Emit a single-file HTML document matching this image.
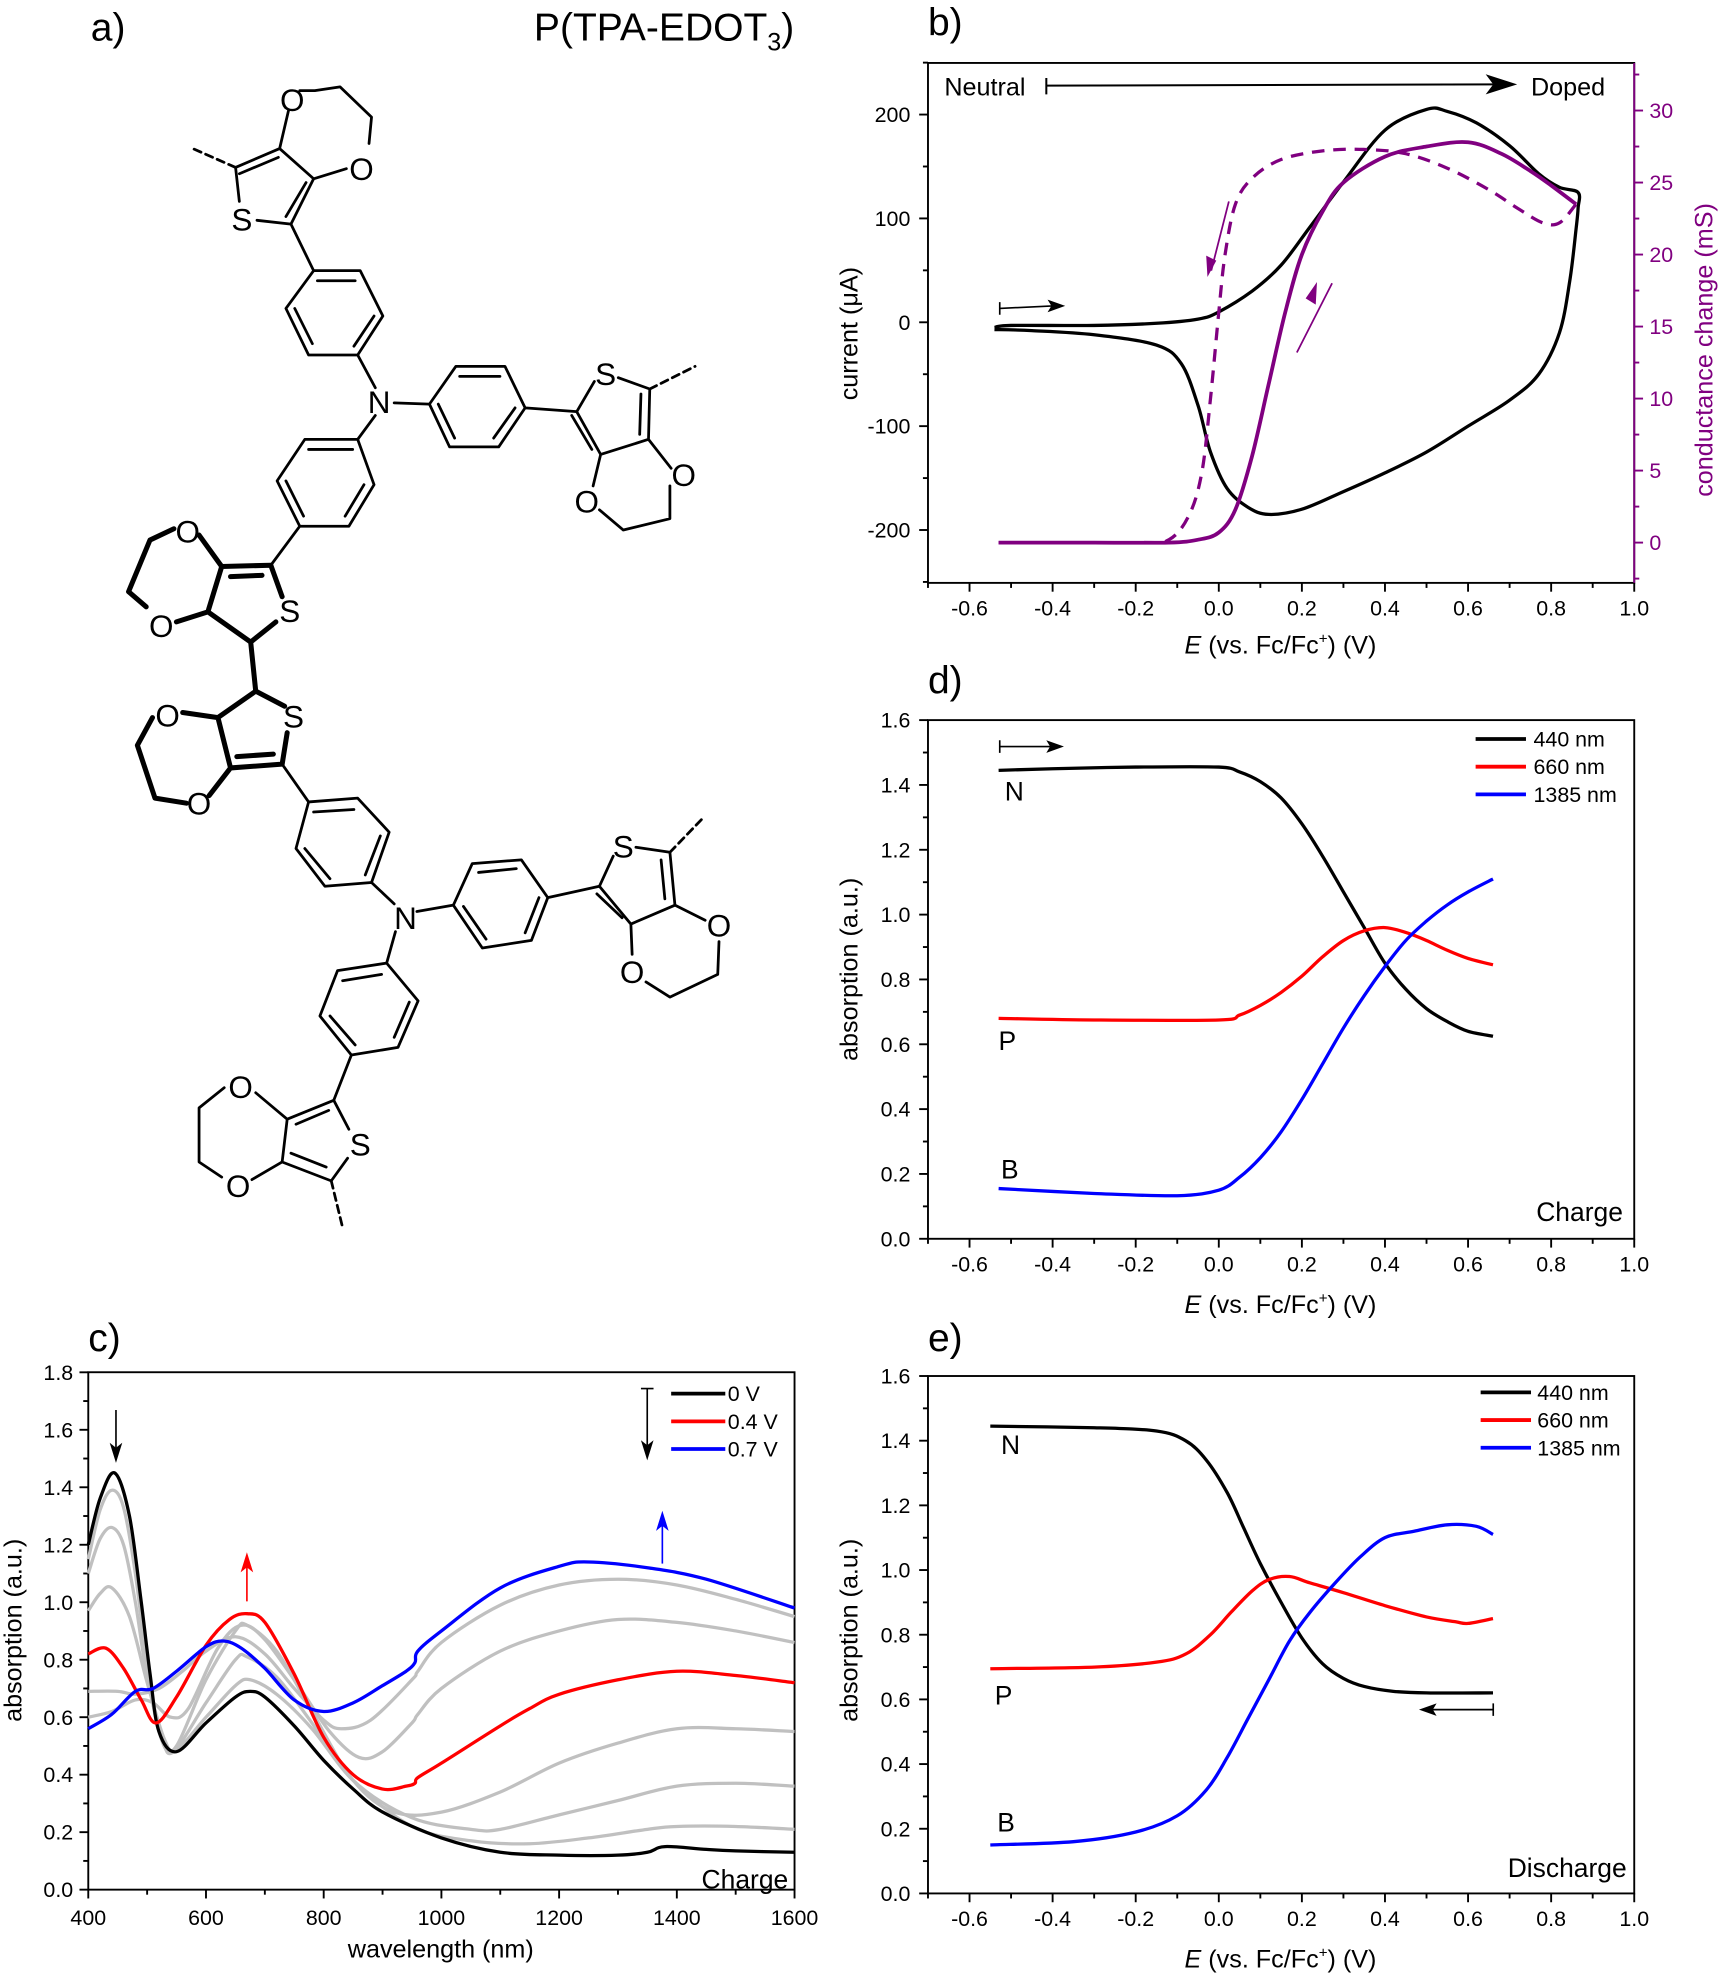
<!DOCTYPE html>
<html><head><meta charset="utf-8"><style>
html,body{margin:0;padding:0;background:#fff}
svg{display:block}
text{font-family:"Liberation Sans",Arial,sans-serif;fill:#000}
</style></head><body>
<svg id="s" width="1720" height="1974" viewBox="0 0 1366 1568" xmlns="http://www.w3.org/2000/svg">
<!-- panel a -->
<text x="72" y="32" font-size="31">a)</text>
<text x="424" y="32" font-size="31">P(TPA-EDOT<tspan font-size="20" dy="8">3</tspan><tspan dy="-8">)</tspan></text>
<g stroke="#000" stroke-width="2.2" fill="none" stroke-linecap="round" stroke-linejoin="round">
<path d="M187,133 L222,118 M190,138 L221,125 M222,118 L229,88 M249,142 L275,134 M238,72 L250,72 L270,69 L295,93 L293,114 M249,142 L222,118 M249,142 L231,178 M243,145 L227,172 M231,178 L204,175 M187,133 L190,160 M231,178 L249,215"/>
<path d="M187,133 L153,118" stroke-dasharray="6,4"/>
<path d="M249,215 L286,215 L304,251 L284,282 L245,282 L227,245 Z M252,223 L282,223 M297,251 L281,275 M234,245 L248,273"/>
<path d="M284,282 L298,308 M313,320 L341,321 M298,330 L284,349"/>
<path d="M341,321 L362,291 L401,291 L417,324 L396,355 L357,355 Z M365,299 L397,299 M409,324 L392,348 M348,321 L361,348 M417,324 L458,327"/>
<path d="M458,327 L472,303 M491,300 L516,309 M516,309 L515,349 M509,313 L508,345 M515,349 L477,361 M477,361 L458,327 M470,357 L454,330 M515,349 L533,372 M477,361 L471,386 M532,386 L532,412 L495,421 L476,405"/>
<path d="M516,309 L552,291" stroke-dasharray="6,4"/>
<path d="M284,349 L242,349 L220,382 L238,418 L277,418 L297,385 Z M245,357 L280,357 M227,382 L241,410 M274,410 L289,385 M238,418 L215,449"/>
</g>
<g stroke="#000" stroke-width="4" fill="none" stroke-linecap="round" stroke-linejoin="round">
<path d="M215,449 L176,450 L165,486 L199,510 L219,494 M215,449 L224,474 M183,458 L208,457 M176,450 L158,425 M165,486 L140,494 M138,420 L119,429 L102,470 L116,482 M199,510 L203,549"/>
<path d="M203,549 L226,561 M228,582 L224,607 L183,610 L173,570 L203,549 M188,601 L217,599 M173,570 L145,566 M183,610 L166,632 M121,570 L109,592 L123,634 L148,638"/>
</g>
<g stroke="#000" stroke-width="2.2" fill="none" stroke-linecap="round" stroke-linejoin="round">
<path d="M224,607 L245,637"/>
<path d="M245,637 L284,634 L309,661 L295,701 L258,704 L235,674 Z M249,645 L281,643 M302,664 L290,695 M242,674 L262,698 M295,701 L313,718 M331,724 L360,719 M314,740 L307,765"/>
<path d="M360,719 L375,686 L414,683 L435,713 L422,747 L383,753 Z M380,693 L410,690 M428,713 L417,741 M368,720 L386,746 M435,713 L476,704"/>
<path d="M476,704 L487,680 M505,673 L532,677 L536,719 L501,734 L476,704 M525,683 L528,714 M494,729 L474,710 M536,719 L560,731 M501,734 L502,758 M571,748 L570,774 L532,792 L513,780"/>
<path d="M532,677 L559,649" stroke-dasharray="6,4"/>
<path d="M307,765 L268,771 L254,807 L279,838 L316,832 L332,795 Z M272,779 L303,774 M262,807 L282,830 M313,824 L325,796 M279,838 L265,874"/>
<path d="M265,874 L277,897 M276,920 L263,938 L224,923 L228,889 L265,874 M231,916 L259,927 M235,893 L261,882 M228,889 L203,868 M224,923 L200,937 M178,864 L158,880 L158,923 L176,935"/>
<path d="M263,938 L272,975" stroke-dasharray="6,4"/>
</g>
<g font-size="25" text-anchor="middle">
<text x="232" y="88">O</text><text x="287" y="143">O</text><text x="192" y="183">S</text>
<text x="301" y="328">N</text><text x="481" y="306">S</text><text x="543" y="386">O</text><text x="466" y="407">O</text>
<text x="149" y="431">O</text><text x="128" y="506">O</text><text x="230" y="494">S</text>
<text x="233" y="578">S</text><text x="133" y="577">O</text><text x="158" y="647">O</text>
<text x="322" y="738">N</text><text x="495" y="681">S</text><text x="571" y="744">O</text><text x="502" y="781">O</text>
<text x="191" y="872">O</text><text x="189" y="951">O</text><text x="286" y="918">S</text>
</g>

<text x="737" y="28" font-size="31">b)</text>
<text x="737" y="551" font-size="31">d)</text>
<text x="70" y="1073" font-size="31">c)</text>
<text x="737" y="1073" font-size="31">e)</text>

<g id="axes" stroke="#000" stroke-width="1.5" fill="none"></g>
<g id="curves" fill="none"></g>
<g id="labels" font-size="17"></g>

<text x="750" y="76" font-size="20">Neutral</text>
<text x="1216" y="76" font-size="20">Doped</text>
<path d="M831,62 L831,75 M831,68 L1190,67" stroke="#000" stroke-width="1.6" fill="none"/>
<path d="M1205,67 L1180,59 L1186,67 L1180,75 Z" fill="#000"/>
<path d="M794,240 L794,250 M794,245 L836,243" stroke="#000" stroke-width="1.3" fill="none"/>
<path d="M846,243 L832,238 L835,243 L832,248 Z" fill="#000"/>
<text transform="translate(681,265) rotate(-90)" font-size="20" text-anchor="middle">current (μA)</text>
<text transform="translate(1360,278) rotate(-90)" font-size="20" text-anchor="middle" style="fill:#800080">conductance change (mS)</text>
<text x="1017" y="519" font-size="20" text-anchor="middle"><tspan font-style="italic">E</tspan> (vs. Fc/Fc<tspan font-size="12" dy="-8">+</tspan><tspan dy="8">) (V)</tspan></text>
<path d="M976,160 L962,215 M1058,225 L1030,280" stroke="#800080" stroke-width="1.4"/>
<path d="M959,220 L958,203 L966,207 Z M1046,224 L1045,242 L1037,237 Z" fill="#800080"/>

<text transform="translate(681,770) rotate(-90)" font-size="20" text-anchor="middle">absorption (a.u.)</text>
<text x="1017" y="1043" font-size="20" text-anchor="middle"><tspan font-style="italic">E</tspan> (vs. Fc/Fc<tspan font-size="12" dy="-8">+</tspan><tspan dy="8">) (V)</tspan></text>
<g font-size="17"><text x="1218" y="593">440 nm</text><text x="1218" y="615">660 nm</text><text x="1218" y="637">1385 nm</text></g>
<path d="M1172,587 H1212" stroke="#000" stroke-width="3"/><path d="M1172,609 H1212" stroke="#f00" stroke-width="3"/><path d="M1172,631 H1212" stroke="#00f" stroke-width="3"/>
<g font-size="21"><text x="798" y="636">N</text><text x="793" y="834">P</text><text x="795" y="936">B</text><text x="1289" y="970" text-anchor="end">Charge</text></g>
<path d="M794,588 L794,598 M794,593 L835,593" stroke="#000" stroke-width="1.3"/><path d="M845,593 L831,588 L834,593 L831,598 Z" fill="#000"/>

<text transform="translate(681,1295) rotate(-90)" font-size="20" text-anchor="middle">absorption (a.u.)</text>
<text x="1017" y="1563" font-size="20" text-anchor="middle"><tspan font-style="italic">E</tspan> (vs. Fc/Fc<tspan font-size="12" dy="-8">+</tspan><tspan dy="8">) (V)</tspan></text>
<g font-size="17"><text x="1221" y="1112">440 nm</text><text x="1221" y="1134">660 nm</text><text x="1221" y="1156">1385 nm</text></g>
<path d="M1176,1106 H1216" stroke="#000" stroke-width="3"/><path d="M1176,1128 H1216" stroke="#f00" stroke-width="3"/><path d="M1176,1150 H1216" stroke="#00f" stroke-width="3"/>
<g font-size="21"><text x="795" y="1155">N</text><text x="790" y="1354">P</text><text x="792" y="1455">B</text><text x="1292" y="1491" text-anchor="end">Discharge</text></g>
<path d="M1186,1353 L1186,1363 M1186,1358 L1137,1358" stroke="#000" stroke-width="1.3"/><path d="M1127,1358 L1141,1353 L1138,1358 L1141,1363 Z" fill="#000"/>

<text transform="translate(17,1295) rotate(-90)" font-size="20" text-anchor="middle">absorption (a.u.)</text>
<text x="350" y="1555" font-size="20" text-anchor="middle">wavelength (nm)</text>
<g font-size="17"><text x="578" y="1113">0 V</text><text x="578" y="1135">0.4 V</text><text x="578" y="1157">0.7 V</text></g>
<path d="M533,1107 H576" stroke="#000" stroke-width="3"/><path d="M533,1129 H576" stroke="#f00" stroke-width="3"/><path d="M533,1151 H576" stroke="#00f" stroke-width="3"/>
<path d="M509,1103 L519,1103 M514,1103 L514,1148" stroke="#000" stroke-width="1.3"/><path d="M514,1160 L509,1144 L514,1148 L519,1144 Z" fill="#000"/>
<path d="M92,1120 L92,1150" stroke="#000" stroke-width="1.3"/><path d="M92,1162 L87,1146 L92,1150 L97,1146 Z" fill="#000"/>
<path d="M196,1272 L196,1243" stroke="#f00" stroke-width="1.3"/><path d="M196,1233 L191,1249 L196,1245 L201,1249 Z" fill="#f00"/>
<path d="M526,1242 L526,1210" stroke="#00f" stroke-width="1.3"/><path d="M526,1200 L521,1216 L526,1212 L531,1216 Z" fill="#00f"/>
<text x="626" y="1500" font-size="21" text-anchor="end">Charge</text>
</svg>
<script>
var NS="http://www.w3.org/2000/svg";
function el(g,tag,attrs,txt){var e=document.createElementNS(NS,tag);for(var k in attrs)e.setAttribute(k,attrs[k]);if(txt!==undefined)e.textContent=txt;document.getElementById(g).appendChild(e);return e;}
function cr(p){var d="M"+p[0][0].toFixed(1)+","+p[0][1].toFixed(1);for(var i=0;i<p.length-1;i++){var p0=p[i-1]||p[i],p1=p[i],p2=p[i+1],p3=p[i+2]||p2;var c1=[p1[0]+(p2[0]-p0[0])/6,p1[1]+(p2[1]-p0[1])/6],c2=[p2[0]-(p3[0]-p1[0])/6,p2[1]-(p3[1]-p1[1])/6];d+="C"+c1[0].toFixed(1)+","+c1[1].toFixed(1)+" "+c2[0].toFixed(1)+","+c2[1].toFixed(1)+" "+p2[0].toFixed(1)+","+p2[1].toFixed(1);}return d;}
function curve(data,fx,fy,attrs){var p=[];for(var i=0;i<data.length;i+=2)p.push([fx(data[i]),fy(data[i+1])]);attrs.d=cr(p);el("curves","path",attrs);}
var EX=function(v){return 737+(v+0.7)*330;};
function box(l,t,r,b){el("axes","rect",{x:l,y:t,width:r-l,height:b-t});}
function xticksE(b){for(var i=-7;i<=10;i++){var x=EX(i/10),maj=(i%2==0);el("axes","line",{x1:x,y1:b,x2:x,y2:b+(maj?7:4)});if(maj)el("labels","text",{x:x,y:b+26,"text-anchor":"middle"},(i/10).toFixed(1));}}
box(737,50,1298,463);xticksE(463);
var BY=function(v){return 256-v*0.825;};
for(var v=-250;v<=250;v+=50){var y=BY(v);el("axes","line",{x1:737,y1:y,x2:737-(v%100==0?7:4),y2:y});if(v%100==0&&Math.abs(v)<=200)el("labels","text",{x:723,y:y+6,"text-anchor":"end"},v);}
var CY=function(v){return 431-v*11.44;};
for(var v=-2.5;v<=32.5;v+=2.5){var y=CY(v);var maj=(v==Math.round(v)&&Math.round(v)%5==0);el("axes","line",{x1:1298,y1:y,x2:1298+(maj?7:4),y2:y,stroke:"#800080"});if(maj&&v>=0&&v<=30)el("labels","text",{x:1310,y:y+6,style:"fill:#800080"},v);}
el("axes","line",{x1:1298,y1:50,x2:1298,y2:463,stroke:"#800080"});
curve([-0.54,-5,-0.5,-3,-0.3,-3,-0.15,-1,-0.05,3,0.0,10,0.08,30,0.15,55,0.22,92,0.3,135,0.4,185,0.5,205,0.55,203,0.62,192,0.7,170,0.77,143,0.82,130,0.865,125,0.865,110,0.86,90,0.845,40,0.82,-10,0.77,-50,0.7,-75,0.6,-100,0.5,-125,0.4,-145,0.3,-163,0.2,-180,0.12,-185,0.07,-178,0.02,-160,-0.02,-125,-0.05,-80,-0.09,-40,-0.15,-22,-0.3,-12,-0.45,-8,-0.54,-7],EX,BY,{stroke:"#000","stroke-width":2.6});
curve([-0.53,0,-0.3,0,-0.12,0,-0.05,0.2,0,0.7,0.04,2.3,0.08,6,0.12,11,0.16,16,0.2,20,0.25,23,0.3,25,0.4,26.8,0.5,27.5,0.6,27.8,0.68,27,0.75,25.8,0.8,24.8,0.86,23.5],EX,CY,{stroke:"#800080","stroke-width":3});
curve([0.86,23.5,0.82,22.2,0.78,22.2,0.72,23.2,0.65,24.5,0.55,26,0.45,27,0.35,27.3,0.25,27.2,0.15,26.6,0.08,25.3,0.04,23.5,0.015,20,0.0,16,-0.02,10,-0.04,5,-0.07,2,-0.12,0.2,-0.2,0,-0.53,0],EX,CY,{stroke:"#800080","stroke-width":2.6,"stroke-dasharray":"10,7"});
function absAxes(t,b){box(737,t,1298,b);xticksE(b);var s=(b-t)/1.6;for(var i=0;i<=16;i++){var y=b-i*0.1*s;el("axes","line",{x1:737,y1:y,x2:737-(i%2==0?7:4),y2:y});if(i%2==0)el("labels","text",{x:723,y:y+6,"text-anchor":"end"},(i/10).toFixed(1));}return function(v){return b-v*s;};}
var DY=absAxes(572,984);
curve([-0.53,1.445,-0.4,1.45,-0.2,1.455,0,1.455,0.05,1.44,0.1,1.41,0.15,1.36,0.2,1.28,0.25,1.18,0.3,1.07,0.35,0.96,0.4,0.85,0.45,0.77,0.5,0.71,0.55,0.67,0.6,0.64,0.66,0.625],EX,DY,{stroke:"#000","stroke-width":2.6});
curve([-0.53,0.68,-0.3,0.675,0,0.675,0.05,0.69,0.1,0.72,0.15,0.76,0.2,0.81,0.25,0.87,0.3,0.92,0.35,0.95,0.4,0.96,0.45,0.945,0.5,0.92,0.55,0.89,0.6,0.865,0.66,0.845],EX,DY,{stroke:"#f00","stroke-width":2.6});
curve([-0.53,0.155,-0.3,0.14,-0.1,0.133,0,0.15,0.05,0.19,0.1,0.25,0.15,0.33,0.2,0.43,0.25,0.54,0.3,0.65,0.35,0.75,0.4,0.84,0.45,0.92,0.5,0.98,0.55,1.03,0.6,1.07,0.66,1.11],EX,DY,{stroke:"#00f","stroke-width":2.6});
var EY=absAxes(1093,1504);
curve([-0.55,1.445,-0.3,1.44,-0.15,1.43,-0.08,1.4,-0.03,1.34,0.02,1.24,0.06,1.13,0.1,1.02,0.15,0.9,0.2,0.79,0.25,0.71,0.3,0.665,0.35,0.64,0.42,0.625,0.5,0.62,0.66,0.62],EX,EY,{stroke:"#000","stroke-width":2.6});
curve([-0.55,0.695,-0.3,0.7,-0.15,0.715,-0.08,0.74,-0.02,0.8,0.03,0.87,0.08,0.935,0.12,0.97,0.17,0.98,0.22,0.96,0.3,0.93,0.4,0.89,0.5,0.855,0.57,0.84,0.6,0.835,0.66,0.85],EX,EY,{stroke:"#f00","stroke-width":2.6});
curve([-0.55,0.15,-0.35,0.16,-0.2,0.19,-0.1,0.24,-0.03,0.32,0.02,0.42,0.07,0.54,0.12,0.66,0.17,0.78,0.22,0.87,0.28,0.96,0.34,1.04,0.4,1.1,0.47,1.12,0.55,1.14,0.62,1.135,0.66,1.11],EX,EY,{stroke:"#00f","stroke-width":2.6});
box(70,1090,631,1501);
var WX=function(v){return 70+(v-400)*0.4675;},WY=function(v){return 1501-v*228.3;};
for(var w=400;w<=1600;w+=100){var x=WX(w),maj=(w%200==0);el("axes","line",{x1:x,y1:1501,x2:x,y2:1501+(maj?7:4)});if(maj)el("labels","text",{x:x,y:1529,"text-anchor":"middle"},w);}
for(var i=0;i<=18;i++){var y=WY(i/10);el("axes","line",{x1:70,y1:y,x2:70-(i%2==0?7:4),y2:y});if(i%2==0)el("labels","text",{x:58,y:y+6,"text-anchor":"end"},(i/10).toFixed(1));}
var G={stroke:"#c0c0c0","stroke-width":2.6};
curve([400,1.15,420,1.32,440,1.39,460,1.33,480,1.1,500,0.78,520,0.55,545,0.48,600,0.6,650,0.71,675,0.73,720,0.68,780,0.56,850,0.38,950,0.22,1050,0.17,1150,0.16,1250,0.18,1350,0.21,1400,0.22,1500,0.22,1600,0.21],WX,WY,G);
curve([400,1.1,420,1.22,440,1.26,460,1.2,480,1.0,500,0.74,525,0.53,545,0.48,600,0.65,650,0.8,670,0.81,720,0.74,780,0.58,850,0.38,950,0.25,1050,0.21,1100,0.21,1200,0.26,1300,0.31,1400,0.36,1500,0.37,1600,0.36],WX,WY,G);
curve([400,0.97,420,1.03,440,1.05,470,0.95,500,0.72,530,0.52,550,0.5,600,0.73,650,0.9,670,0.92,720,0.83,780,0.62,850,0.38,920,0.27,1000,0.27,1100,0.34,1200,0.44,1300,0.51,1400,0.56,1500,0.56,1600,0.55],WX,WY,G);
curve([400,0.6,440,0.62,480,0.66,510,0.65,540,0.6,570,0.63,620,0.84,660,0.92,700,0.87,760,0.7,810,0.55,860,0.46,900,0.48,950,0.58,960,0.61,1000,0.7,1100,0.83,1200,0.9,1300,0.94,1400,0.93,1500,0.9,1600,0.86],WX,WY,G);
curve([400,0.69,450,0.69,480,0.68,520,0.7,560,0.76,600,0.83,650,0.88,700,0.82,750,0.7,800,0.59,830,0.56,880,0.59,950,0.73,960,0.76,1000,0.86,1100,0.99,1200,1.06,1300,1.08,1400,1.06,1500,1.01,1600,0.95],WX,WY,G);
curve([400,1.2,420,1.36,445,1.45,470,1.3,490,1.0,505,0.75,520,0.55,550,0.48,600,0.58,650,0.67,675,0.69,700,0.67,750,0.57,800,0.45,850,0.35,900,0.27,1000,0.18,1100,0.13,1200,0.12,1300,0.12,1350,0.13,1380,0.15,1450,0.14,1500,0.135,1600,0.13],WX,WY,{stroke:"#000","stroke-width":2.6});
curve([400,0.82,430,0.84,460,0.77,490,0.66,515,0.58,550,0.67,600,0.85,640,0.94,670,0.96,700,0.93,750,0.75,800,0.53,850,0.4,900,0.35,940,0.36,955,0.37,960,0.39,1000,0.44,1100,0.57,1150,0.63,1200,0.68,1300,0.73,1400,0.76,1500,0.745,1600,0.72],WX,WY,{stroke:"#f00","stroke-width":2.6});
curve([400,0.56,440,0.61,480,0.69,510,0.7,550,0.76,600,0.845,630,0.865,660,0.84,700,0.77,750,0.66,800,0.62,850,0.65,900,0.71,940,0.76,955,0.79,960,0.83,1000,0.9,1100,1.05,1200,1.125,1250,1.14,1350,1.12,1450,1.08,1600,0.98],WX,WY,{stroke:"#00f","stroke-width":2.6});
</script>
</body></html>
